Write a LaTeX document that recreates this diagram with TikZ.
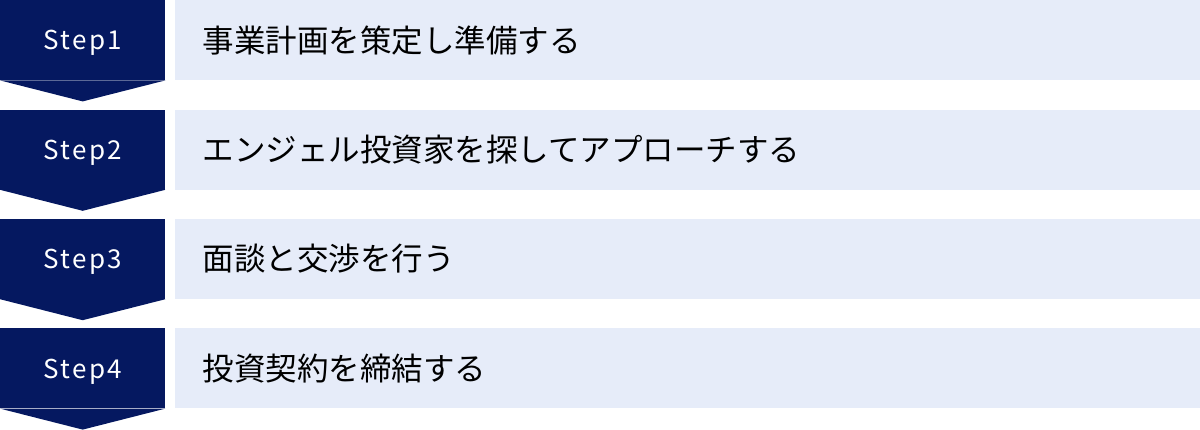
\documentclass[tikz,border=0pt]{standalone}
\usepackage{fontspec}
\setmainfont{Noto Sans CJK JP}
\newfontfamily\stepfont[LetterSpace=9]{Noto Sans CJK JP}
\usetikzlibrary{positioning, calc}
\definecolor{stepnavy}{RGB}{5,24,96}
\definecolor{rowblue}{RGB}{230,236,249}

\begin{document}
\begin{tikzpicture}[x=1pt, y=1pt,
	stepbox/.style={fill=stepnavy, text=white, minimum width=165pt, minimum height=80pt, inner sep=0pt, text depth=0pt, font=\stepfont\fontsize{26}{30}\selectfont},
	rowbox/.style={fill=rowblue, minimum height=80pt, text width=970pt, inner xsep=28pt, inner ysep=0pt, align=left, font=\fontsize{31.5}{36}\selectfont}]
		\useasboundingbox (0,0) rectangle (1200,-429);
		
		\node(s1) [stepbox, anchor=north west] at (0,0) {Step1};
		\node(s2) [stepbox, below=29pt of s1] {Step2};
		\node(s3) [stepbox, below=29pt of s2] {Step3};
		\node(s4) [stepbox, below=29pt of s3] {Step4};
		
		% arrow tips under the steps
		\foreach \s in {s1,s2,s3,s4}
		\fill[stepnavy] (\s.south west) -- (\s.south east) -- ($(\s.south)+(0,-21)$) -- cycle;
		
		\node(t1) [rowbox, right=9pt of s1] {事業計画を策定し準備する};
		\node(t2) [rowbox, right=9pt of s2] {エンジェル投資家を探してアプローチする};
		\node(t3) [rowbox, right=9pt of s3] {面談と交渉を行う};
		\node(t4) [rowbox, right=9pt of s4] {投資契約を締結する};
\end{tikzpicture}
\end{document}
